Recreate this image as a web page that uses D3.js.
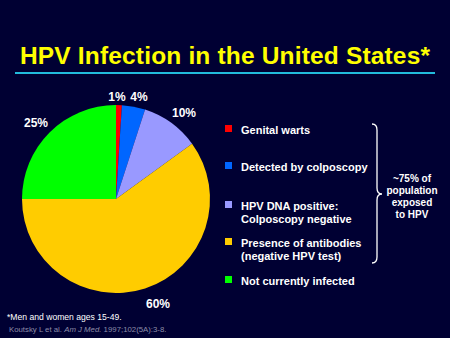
<!DOCTYPE html>
<html><head><meta charset="utf-8">
<script src="https://cdn.jsdelivr.net/npm/d3@7"></script>
<style>html,body{margin:0;padding:0;background:#000033;}svg{display:block;}</style>
</head><body>
<svg id="c" width="450" height="338"></svg>
<script>
const categories = ["Genital warts","Detected by colposcopy","HPV DNA positive: Colposcopy negative","Presence of antibodies (negative HPV test)","Not currently infected"];
const legendLines = [["Genital warts"],["Detected by colposcopy"],["HPV DNA positive:","Colposcopy negative"],["Presence of antibodies","(negative HPV test)"],["Not currently infected"]];
const values = [1,4,10,60,25];
const pctLabels = ["1%","4%","10%","60%","25%"];
const colors = ["#ff0000","#0066ff","#9999ff","#ffcc00","#00ff00"];
const braceText = ["~75% of","population","exposed","to HPV"];
const titleText = "HPV Infection in the United States*";
const footnote = "*Men and women ages 15-49.";
const citation = ["Koutsky L et al. ","Am J Med.","  1997;102(5A):3-8."];

(function(){
const svg = d3.select("#c");
const font = "'Liberation Sans', Arial, sans-serif";
svg.append("rect").attr("width",450).attr("height",338).attr("fill","#000033");

// title
svg.append("text").attr("x",225).attr("y",64).attr("text-anchor","middle")
  .attr("font-family",font).attr("font-weight","bold").attr("font-size",24.5)
  .attr("textLength",410).attr("lengthAdjust","spacing")
  .attr("fill","#ffff00").text(titleText);
svg.append("line").attr("x1",15).attr("x2",435).attr("y1",73).attr("y2",73)
  .attr("stroke","#22bbdd").attr("stroke-width",2);

// pie
const cx=116, cy=199, r=94;
const pie = d3.pie().sort(null).value(d=>d)(values);
const arc = d3.arc().innerRadius(0).outerRadius(r);
const g = svg.append("g").attr("transform",`translate(${cx},${cy})`);
g.selectAll("path").data(pie).join("path").attr("d",arc).attr("fill",(d,i)=>colors[i]);

const labelPos = [[117,101],[139,101],[184,117],[158,308],[36,127]];
svg.selectAll("text.pct").data(pctLabels).join("text").attr("class","pct")
  .attr("x",(d,i)=>labelPos[i][0]).attr("y",(d,i)=>labelPos[i][1]).attr("text-anchor","middle")
  .attr("font-family",font).attr("font-weight","bold").attr("font-size",12)
  .attr("fill","#ffffff").text(d=>d);

// legend
const legY = [130,167,206,243,281];
const lg = svg.append("g");
legendLines.forEach((lines,i)=>{
  lg.append("rect").attr("x",225).attr("y",legY[i]-5).attr("width",7).attr("height",7).attr("fill",colors[i]);
  lines.forEach((t,j)=>{
    lg.append("text").attr("x",241).attr("y",legY[i]+4+j*12.5)
      .attr("font-family",font).attr("font-weight","bold").attr("font-size",11)
      .attr("fill","#ffffff").text(t);
  });
});

// brace
const bx=372, bTop=124, bBot=263, mid=194, tip=382, w=5;
const bp = `M${bx},${bTop} Q${bx+w},${bTop} ${bx+w},${bTop+6} L${bx+w},${mid-6} Q${bx+w},${mid} ${tip},${mid} Q${bx+w},${mid} ${bx+w},${mid+6} L${bx+w},${bBot-6} Q${bx+w},${bBot} ${bx},${bBot}`;
svg.append("path").attr("d",bp).attr("fill","none").attr("stroke","#ffffff").attr("stroke-width",1.3);
braceText.forEach((t,i)=>{
  svg.append("text").attr("x",412).attr("y",182+i*12).attr("text-anchor","middle")
    .attr("font-family",font).attr("font-weight","bold").attr("font-size",10)
    .attr("fill","#ffffff").text(t);
});

// footnotes
svg.append("text").attr("x",7).attr("y",320).attr("font-family",font).attr("font-size",8.6)
  .attr("fill","#ffffff").text(footnote);
const ct = svg.append("text").attr("x",9).attr("y",332).attr("font-family",font).attr("font-size",7.8).attr("fill","#8c8ca8");
ct.append("tspan").text(citation[0]);
ct.append("tspan").attr("font-style","italic").text(citation[1]);
ct.append("tspan").text(citation[2]);
})();
</script>
</body></html>
